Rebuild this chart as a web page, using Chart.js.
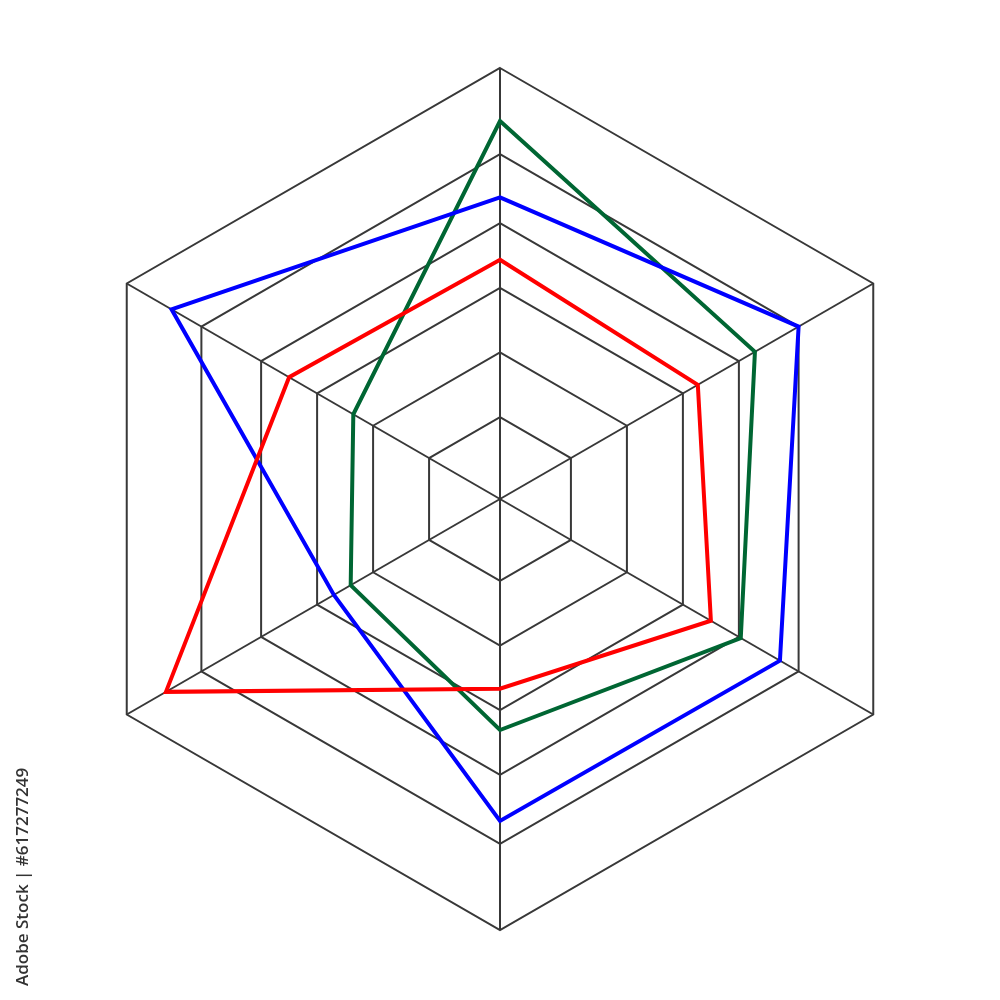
<!DOCTYPE html>
<html>
<head>
  <title>Hexagon Radar</title>
  <script src="https://cdn.jsdelivr.net/npm/chart.js"></script>
  <style>
    body { margin: 0; background: #fff; }
    #wrap { position: relative; width: 1000px; height: 1000px; }
    #stamp {
      position: absolute; left: 10px; top: 986px;
      transform-origin: 0 0; transform: rotate(-90deg);
      font-family: "Open Sans", sans-serif; font-size: 17px; font-weight: 600;
      color: #333; white-space: nowrap; line-height: 24px;
    }
  </style>
</head>
<body>
  <div id="wrap">
    <canvas id="myChart" width="1000" height="1000"></canvas>
    <div id="stamp">Adobe Stock | #617277249</div>
  </div>

  <script>
    // axes go clockwise from the top
    const axes = ['A', 'B', 'C', 'D', 'E', 'F'];
    // ring positions (uneven spacing, as in the picture)
    const rings = [0, 19, 34, 49, 64, 80, 100];

    const redValues = [55.5, 53, 56.5, 44, 89.5, 56.5];
    const blueValues = [70, 80, 75, 74.7, 44.5, 88];
    const greenValues = [87.7, 68.3, 64.5, 53.6, 40, 39.3];

    const ctx = document.getElementById('myChart').getContext('2d');
    const myChart = new Chart(ctx, {
      type: 'radar',
      data: {
        labels: axes,
        datasets: [
          { label: 'Red', data: redValues, borderColor: '#ff0000' },
          { label: 'Blue', data: blueValues, borderColor: '#0000ff' },
          { label: 'Green', data: greenValues, borderColor: '#006633' }
        ]
      },
      options: {
        responsive: false,
        animation: false,
        devicePixelRatio: 1,
        layout: { padding: { top: 68, bottom: 69, left: 69, right: 69 } },
        elements: {
          line: { borderWidth: 4, fill: false, tension: 0, borderJoinStyle: 'miter' },
          point: { radius: 0, hoverRadius: 0 }
        },
        plugins: { legend: { display: false }, tooltip: { enabled: false } },
        scales: {
          r: {
            min: 0,
            max: 100,
            afterBuildTicks: function(scale) {
              scale.ticks = rings.map(v => ({ value: v }));
            },
            ticks: { display: false },
            pointLabels: { display: false },
            grid: { color: '#383838', lineWidth: 2 },
            angleLines: { color: '#383838', lineWidth: 2 }
          }
        }
      }
    });
  </script>
</body>
</html>
